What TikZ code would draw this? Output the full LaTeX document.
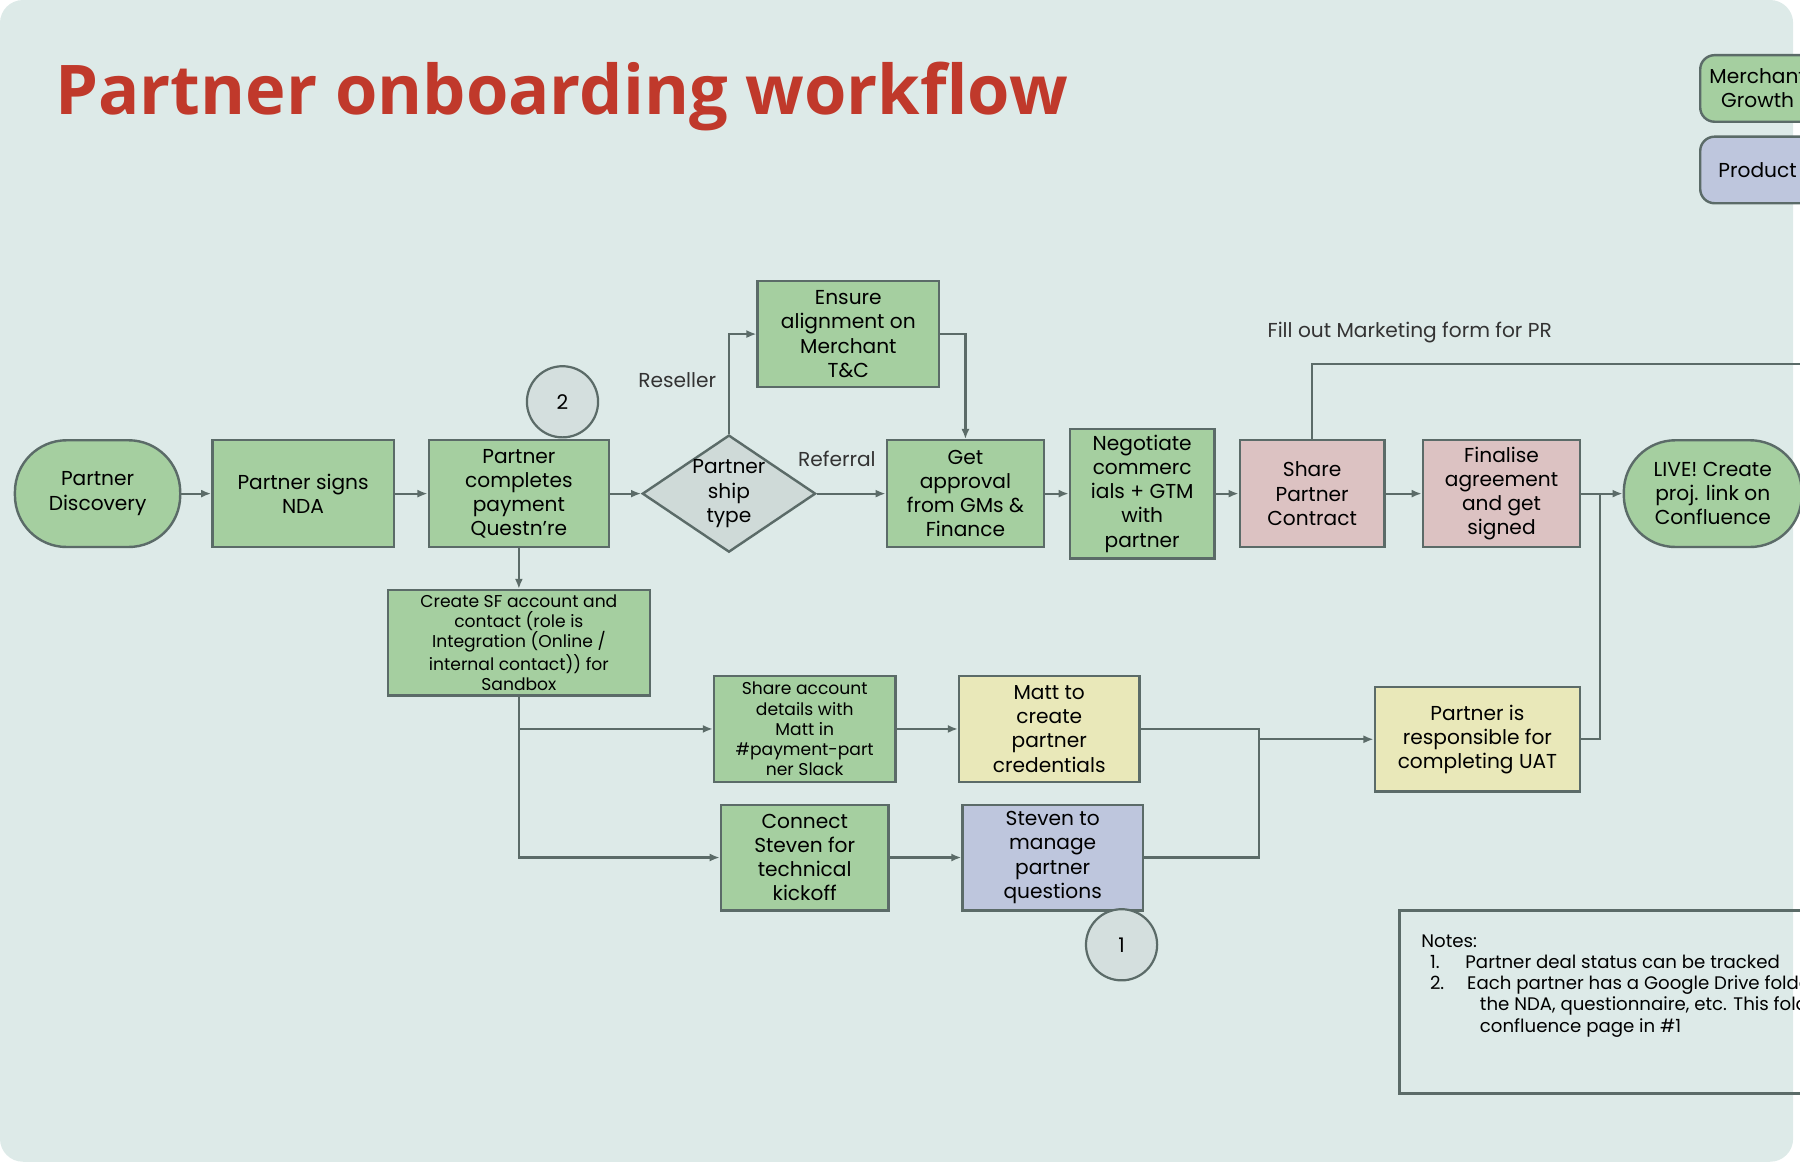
\documentclass[tikz,border=0pt]{standalone}
\usepackage{fontspec}
\setmainfont{Poppins}
\newfontfamily\titlefont{Open Sans}
\usetikzlibrary{shapes.geometric,arrows.meta}
\definecolor{bgpanel}{HTML}{DDEAE8}
\definecolor{boxgreen}{HTML}{A5CFA0}
\definecolor{boxpink}{HTML}{DCC2C2}
\definecolor{boxyellow}{HTML}{E9E8B9}
\definecolor{boxblue}{HTML}{BEC6DD}
\definecolor{edgegray}{HTML}{5B6B68}
\definecolor{titlered}{HTML}{C0392B}
\begin{document}
\begin{tikzpicture}[x=0.02cm,y=-0.02cm,
    box/.style={draw=edgegray,line width=1.2pt,rectangle,align=center,inner sep=0pt,font=\fontsize{10}{12}\selectfont},
    gbox/.style={box,fill=boxgreen},
    pbox/.style={box,fill=boxpink},
    ybox/.style={box,fill=boxyellow},
    bbox/.style={box,fill=boxblue},
    pill/.style={gbox,rounded corners=0.9cm},
    flow/.style={draw=edgegray,line width=1.1pt,-{Latex[length=5pt,width=4pt]}},
    wire/.style={draw=edgegray,line width=1.1pt},
    marker/.style={circle,draw=edgegray,line width=1.1pt,fill=bgpanel!90!gray,minimum size=1.24cm,font=\fontsize{10}{12}\selectfont},
    lbl/.style={font=\fontsize{10}{12}\selectfont,text=black!80}]
    \useasboundingbox (0,0) rectangle (1568,1018);
    \clip (0,0) rectangle (1568,1018);
    % background panel
    \fill[bgpanel,rounded corners=0.4cm] (0,0) rectangle (1562,1012);
    \node[anchor=west,font=\titlefont\bfseries\fontsize{34}{40}\selectfont,text=titlered] (title) at (42,84) {Partner onboarding workflow};

    % legend
    \node[gbox,rounded corners=0.25cm,minimum width=2.0cm,minimum height=1.16cm,anchor=north west] (legmg) at (1480,47) {Merchant\\Growth};
    \node[bbox,rounded corners=0.25cm,minimum width=2.0cm,minimum height=1.16cm,anchor=north west] (legprod) at (1480,118) {Product};

    % main row
    \node[pill,minimum width=2.88cm,minimum height=1.86cm] (disc) at (85,430) {Partner\\Discovery};
    \node[gbox,minimum width=3.16cm,minimum height=1.86cm] (nda) at (264,430) {Partner signs\\NDA};
    \node[gbox,minimum width=3.14cm,minimum height=1.86cm] (quest) at (452,430) {Partner\\completes\\payment\\Questn're};
    \node[marker] (two) at (490,350) {2};
    \node[diamond,aspect=1.48,draw=edgegray,line width=1.2pt,fill=bgpanel!85!gray,inner sep=0pt,minimum width=2.72cm,minimum height=1.84cm,align=center,font=\fontsize{10}{12}\selectfont] (type) at (635,430) {Partner\\ship\\type};
    \node[gbox,minimum width=3.16cm,minimum height=1.84cm] (align) at (739,291) {Ensure\\alignment on\\Merchant\\T\&C};
    \node[gbox,minimum width=2.74cm,minimum height=1.86cm] (gms) at (841,430) {Get\\approval\\from GMs \&\\Finance};
    \node[gbox,minimum width=2.52cm,minimum height=2.26cm] (nego) at (995,430) {Negotiate\\commerc\\ials + GTM\\with\\partner};
    \node[pbox,minimum width=2.52cm,minimum height=1.86cm] (share) at (1143,430) {Share\\Partner\\Contract};
    \node[pbox,minimum width=2.74cm,minimum height=1.86cm] (final) at (1308,430) {Finalise\\agreement\\and get\\signed};
    \node[pill,minimum width=3.1cm,minimum height=1.86cm] (live) at (1492,430) {LIVE! Create\\proj. link on\\Confluence};

    % lower branch
    \node[gbox,minimum width=4.56cm,minimum height=1.84cm,font=\fontsize{8.5}{10}\selectfont] (sfacc) at (452,560) {Create SF account and\\contact (role is\\Integration (Online /\\internal contact)) for\\Sandbox};
    \node[gbox,minimum width=3.16cm,minimum height=1.84cm,font=\fontsize{8.5}{10}\selectfont] (slack) at (701,635) {Share account\\details with\\Matt in\\\#payment-part\\ner Slack};
    \node[ybox,minimum width=3.14cm,minimum height=1.84cm] (creds) at (914,635) {Matt to\\create\\partner\\credentials};
    \node[gbox,minimum width=2.92cm,minimum height=1.84cm] (kick) at (701,747) {Connect\\Steven for\\technical\\kickoff};
    \node[bbox,minimum width=3.14cm,minimum height=1.84cm] (steven) at (917,747) {Steven to\\manage\\partner\\questions};
    \node[marker] (one) at (977,823) {1};
    \node[ybox,minimum width=3.58cm,minimum height=1.82cm] (uat) at (1287,644) {Partner is\\responsible for\\completing UAT};
    \coordinate (join) at (1097,644);
    \coordinate (merge) at (1394,430);
    \coordinate (prtop) at (1143,317);

    % labels
    \node[lbl] (reseller) at (590,331) {Reseller};
    \node[lbl] (referral) at (729,400) {Referral};
    \node[lbl] (prform) at (1228,290) {Fill out Marketing form for PR};

    % notes
    \node[draw=edgegray,line width=1.4pt,anchor=north west,minimum width=7.4cm,minimum height=3.18cm,inner sep=0pt] (notes) at (1218,792) {};
    \node[anchor=north west,align=left,font=\fontsize{9}{10.5}\selectfont] (notestext) at (1232,808) {Notes:\\[0pt]
      \hspace*{0.15cm}1.\hspace{0.45cm}Partner deal status can be tracked\\
      \hspace*{0.15cm}2.\hspace{0.4cm}Each partner has a Google Drive folder\\
      \hspace*{1.02cm}the NDA, questionnaire, etc. This folder\\
      \hspace*{1.02cm}confluence page in \#1};

    % connectors
    \draw[flow] (disc) -- (nda);
    \draw[flow] (nda) -- (quest);
    \draw[flow] (quest) -- (type);
    \draw[flow] (type) -- (gms);
    \draw[flow] (type.north) |- (align.west);
    \draw[flow] (align.east) -| (gms.north);
    \draw[flow] (gms) -- (nego);
    \draw[flow] (nego) -- (share);
    \draw[flow] (share) -- (final);
    \draw[flow] (final) -- (live);
    \draw[wire] (share.north) -- (prtop) -- (1570,317);
    \draw[flow] (quest) -- (sfacc);
    \draw[flow] (sfacc.south) |- (slack.west);
    \draw[flow] (sfacc.south) |- (kick.west);
    \draw[flow] (slack) -- (creds);
    \draw[flow] (kick) -- (steven);
    \draw[wire] (creds.east) -| (join);
    \draw[wire] (steven.east) -| (join);
    \draw[flow] (join) -- (uat);
    \draw[wire] (uat.east) -| (merge);
\end{tikzpicture}
\end{document}
